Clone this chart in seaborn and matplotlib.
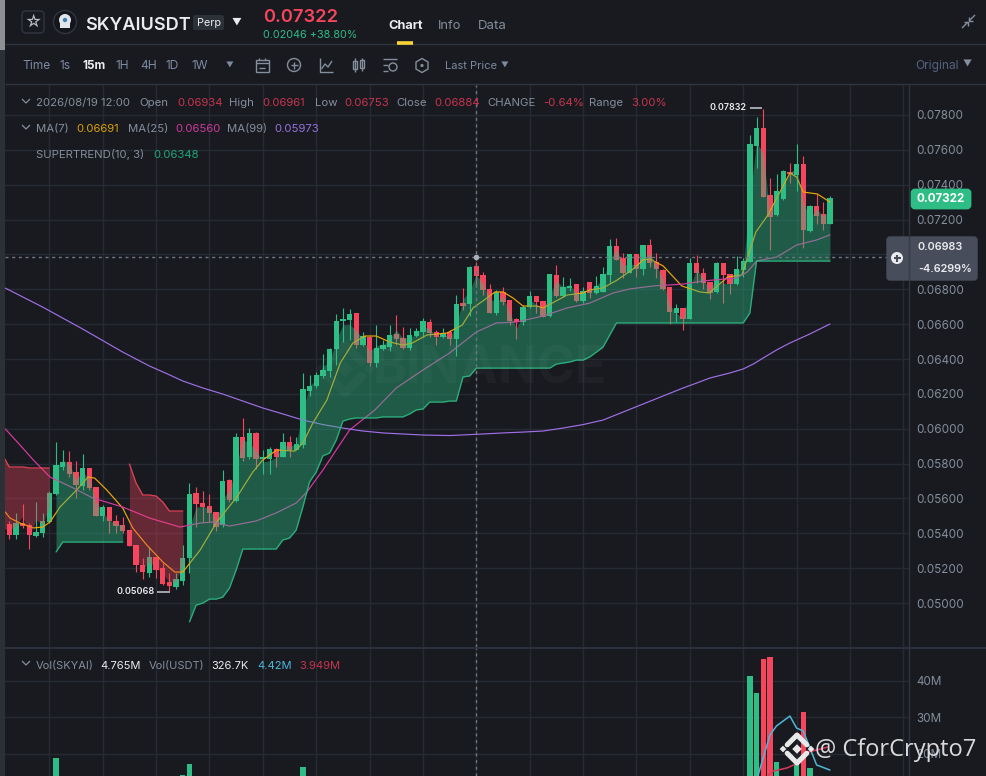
import numpy as np
import matplotlib
matplotlib.use("Agg")
import matplotlib.pyplot as plt
from matplotlib.patches import Circle, FancyBboxPatch, Polygon, Rectangle
import seaborn as sns

# prices are kept in units of 0.00001, candle index -1 sits just off the left edge
opens = [5448, 5454, 5390, 5459, 5448, 5385, 5402, 5465, 5626, 5780, 5809, 5752, 5672, 5775, 5666, 5499, 5551, 5471, 5448,
         5419, 5333, 5218, 5172, 5264, 5201, 5121, 5092, 5126, 5258, 5632, 5574, 5557, 5522, 5448, 5706, 5586, 5953, 5838,
         5976, 5827, 5827, 5884, 5838, 5924, 5878, 5907, 6217, 6245, 6303, 6331, 6458, 6618, 6624, 6664, 6480, 6526, 6377,
         6458, 6469, 6544, 6521, 6463, 6532, 6555, 6612, 6555, 6526, 6555, 6515, 6722, 6716, 6934, 6882, 6802, 6664, 6785,
         6739, 6630, 6612, 6699, 6762, 6733, 6647, 6882, 6762, 6808, 6830, 6733, 6842, 6779, 6785, 6882, 7048, 6980, 6894,
         7002, 6916, 7054, 6957, 6911, 6813, 6664, 6693, 6630, 6951, 6894, 6842, 6785, 6951, 6888, 6830, 6911, 6957, 7622,
         7725, 7341, 7226, 7318, 7473, 7456, 7519, 7134, 7278, 7232, 7175]
highs = [5465, 5471, 5517, 5568, 5459, 5580, 5517, 5643, 5924, 5878, 5872, 5815, 5855, 5775, 5666, 5563, 5551, 5505, 5494,
         5419, 5333, 5258, 5321, 5264, 5230, 5172, 5172, 5333, 5689, 5666, 5643, 5626, 5522, 5763, 5712, 5976, 6062, 6004,
         5981, 5878, 5895, 5890, 5976, 5958, 5953, 6320, 6308, 6326, 6429, 6463, 6658, 6693, 6687, 6664, 6555, 6532, 6595,
         6509, 6595, 6653, 6584, 6578, 6578, 6635, 6630, 6566, 6578, 6566, 6767, 6808, 6934, 6957, 6899, 6830, 6796, 6813,
         6739, 6635, 6710, 6790, 6762, 6733, 6888, 6939, 6871, 6865, 6830, 6813, 6842, 6876, 6928, 7089, 7094, 7008, 7002,
         7002, 7054, 7089, 7008, 6916, 6813, 6716, 6693, 6980, 6997, 6922, 6842, 6957, 6951, 6888, 6991, 6980, 7685, 7789,
         7832, 7439, 7462, 7484, 7525, 7634, 7565, 7284, 7347, 7301, 7335]
lows = [5390, 5367, 5367, 5431, 5310, 5379, 5379, 5459, 5620, 5763, 5723, 5603, 5649, 5649, 5499, 5471, 5402, 5402, 5402,
        5327, 5178, 5138, 5149, 5144, 5104, 5068, 5081, 5104, 5172, 5436, 5465, 5465, 5413, 5436, 5580, 5580, 5815, 5827,
        5769, 5740, 5740, 5781, 5838, 5838, 5878, 5890, 6188, 6234, 6291, 6297, 6366, 6498, 6509, 6463, 6475, 6360, 6354,
        6452, 6446, 6480, 6458, 6452, 6526, 6526, 6526, 6480, 6521, 6480, 6418, 6681, 6647, 6813, 6767, 6664, 6653, 6710,
        6595, 6515, 6595, 6693, 6664, 6641, 6641, 6756, 6756, 6790, 6727, 6722, 6750, 6773, 6785, 6836, 6968, 6865, 6894,
        6871, 6882, 6928, 6865, 6796, 6601, 6612, 6566, 6630, 6836, 6802, 6744, 6779, 6721, 6773, 6825, 6871, 6957, 7496,
        7330, 7025, 7220, 7312, 7410, 7364, 7037, 7129, 7175, 7140, 7175]
closes = [5419, 5390, 5459, 5442, 5390, 5408, 5471, 5632, 5792, 5809, 5740, 5677, 5775, 5660, 5499, 5551, 5471, 5442, 5413,
          5327, 5218, 5178, 5264, 5190, 5109, 5098, 5138, 5258, 5626, 5568, 5551, 5517, 5436, 5700, 5591, 5953, 5833, 5976,
          5827, 5838, 5884, 5838, 5924, 5878, 5912, 6228, 6245, 6308, 6337, 6458, 6618, 6630, 6658, 6480, 6532, 6377, 6463,
          6480, 6538, 6515, 6463, 6538, 6561, 6618, 6549, 6526, 6549, 6515, 6716, 6704, 6928, 6876, 6796, 6664, 6785, 6727,
          6618, 6612, 6699, 6762, 6727, 6641, 6888, 6762, 6813, 6819, 6733, 6790, 6779, 6819, 6888, 7048, 6968, 6894, 7002,
          6916, 7054, 6951, 6916, 6802, 6670, 6693, 6630, 6951, 6894, 6836, 6779, 6951, 6882, 6830, 6917, 6962, 7634, 7725,
          7330, 7215, 7364, 7479, 7462, 7519, 7140, 7278, 7220, 7175, 7322]

# moving averages, at these candle positions
ma7_at = [-0.6, 0.1, 1.6, 3.6, 5, 6.1, 7.6, 10.1, 11.8, 12.8, 14.6, 17, 18.5, 20.6, 23, 24.8, 26, 28.6, 31.1, 34.1, 36.5, 38,
          40.1, 42.8, 44, 45.5, 47.6, 49.6, 51.5, 53.3, 55, 57, 59, 60.4, 62.6, 65.6, 67.9, 69.5, 71.6, 72.8, 74, 75.5, 77,
          79.1, 80, 83.6, 86, 87, 89, 91.1, 93.5, 95, 96, 98, 100.8, 103.5, 104.9, 107.7, 109.8, 111.9, 113.7, 117, 118,
          119, 121.1, 123]
ma7 = [5522, 5488, 5459, 5431, 5436, 5465, 5551, 5649, 5723, 5717, 5649, 5545, 5431, 5333, 5236, 5178, 5178, 5304, 5465,
       5608, 5752, 5821, 5878, 5872, 5918, 6033, 6165, 6377, 6492, 6532, 6532, 6498, 6480, 6492, 6538, 6549, 6595, 6693,
       6750, 6785, 6785, 6750, 6704, 6704, 6693, 6767, 6779, 6796, 6808, 6853, 6916, 6968, 6974, 6934, 6819, 6785, 6779,
       6871, 6882, 7129, 7226, 7467, 7444, 7358, 7347, 7301]
ma25_at = [-0.6, 1.6, 3.6, 6.1, 9.6, 12.5, 17, 21, 25.6, 28.6, 30.5, 33, 37, 40, 43, 44.6, 47, 51, 54.8, 58, 62, 66, 70, 73,
           76, 80, 83.6, 87, 90.5, 93, 96.5, 101, 104, 109, 110.6, 112, 115, 118, 121, 123]
ma25 = [5999, 5907, 5821, 5723, 5660, 5603, 5551, 5488, 5436, 5459, 5465, 5442, 5471, 5517, 5574, 5637, 5763, 5993, 6108,
        6234, 6337, 6435, 6555, 6607, 6612, 6647, 6693, 6721, 6779, 6802, 6819, 6830, 6848, 6865, 6899, 6962, 6985, 7054,
        7083, 7112]
ma99_at = [-0.6, 5, 11, 17, 21, 23.5, 26, 29, 32, 35, 38, 41, 44, 47, 50, 53, 56, 62, 66, 71, 74, 77, 80, 83, 86, 89, 92, 95,
           98, 101, 103, 105, 108, 110, 111.5, 113, 115, 117, 120, 123]
ma99 = [6807, 6698, 6572, 6440, 6360, 6318, 6274, 6234, 6199, 6159, 6119, 6085, 6050, 6024, 6004, 5987, 5976, 5964, 5961,
        5970, 5976, 5981, 5987, 6004, 6024, 6050, 6096, 6142, 6188, 6234, 6262, 6291, 6320, 6343, 6371, 6406, 6452, 6492,
        6544, 6601]

# supertrend pieces, red ones above price and green ones below
st_down_a = [5849, 5781, 5781, 5781, 5775, 5775, 5775, 5775]
st_up_a = [5293] + [5350] * 10
st_down_b = [5798, 5689, 5620, 5620, 5614, 5580, 5528, 5528, 5528]
st_up_b = ([4892, 4988, 5000, 5023, 5023, 5034, 5086, 5190] + [5310] * 6 + [5362, 5373, 5419, 5551, 5695, 5752, 5844, 5861,
           5935, 6044, 6056] + [6062] * 4 + [6068] * 4 + [6085, 6108, 6113, 6153, 6153, 6153, 6159, 6159, 6297, 6303]
           + [6348] * 12 + [6371, 6377, 6383, 6394, 6394, 6412, 6440, 6469, 6538] + [6607] * 20 + [6664] + [6962] * 12)

vol_at = [7, 26, 27, 44, 111, 112, 113, 114, 115, 118, 119, 120]
vol_values = [19.0, 14.3, 17.3, 16.4, 41.4, 36.7, 46.0, 46.6, 17.8, 17.5, 31.5, 16.2]
vol_up = [True, True, True, True, True, True, False, False, True, True, False, True]
vol_ma_a_at = [112.2, 114, 115, 117, 118, 119, 121, 123]
vol_ma_a = [14.0, 25.2, 27.7, 30.4, 27.1, 26.3, 17.0, 15.6]
vol_ma_b_at = [113.8, 114.5, 116.6, 118.2, 119.7, 122.7]
vol_ma_b = [14.2, 15.3, 16.2, 17.5, 20.5, 21.9]

price_ticks = [0.050, 0.052, 0.054, 0.056, 0.058, 0.060, 0.062, 0.064, 0.066, 0.068, 0.070, 0.072, 0.074, 0.076, 0.078]
vol_ticks = [20, 30, 40]

BG = "#181a20"
GRID = "#252a33"
LINE = "#2f3540"
GREY = "#848e9c"
GREEN = "#2ebd85"
RED = "#f6465d"
CROSS = "#6f7681"

sns.set_theme(style="darkgrid", rc={"axes.facecolor": BG, "figure.facecolor": BG, "grid.color": GRID, "grid.linewidth": 1})
plt.rcParams["font.family"] = ["Inter", "DejaVu Sans"]

fig = plt.figure(figsize=(9.87, 7.76), dpi=100)
ax = fig.add_axes([5 / 987, 1 - 647 / 776, 904 / 987, 562 / 776])
vol = fig.add_axes([5 / 987, 0, 904 / 987, 128 / 776])

idx = np.arange(-1, 124)
o, h, l, c = [np.array(a) / 1e5 for a in (opens, highs, lows, closes)]
up = c >= o
colors = np.where(up, GREEN, RED)

# candles, with the trend fill laid over them afterwards
ax.vlines(idx, l, h, colors=colors, linewidth=0.8, zorder=2)
ax.bar(idx, np.abs(c - o), bottom=np.minimum(o, c), width=0.8, color=colors, linewidth=0, zorder=2)

for at, vals, col in [(ma7_at, ma7, "#f0a70a"), (ma25_at, ma25, "#d93aa2"), (ma99_at, ma99, "#a06fe6")]:
    sns.lineplot(x=at, y=np.array(vals) / 1e5, color=col, linewidth=0.85, ax=ax, errorbar=None, sort=False, zorder=3)

mid = (h + l) / 2
pos = 0
for piece, col, alpha in [(st_down_a, RED, 0.35), (st_up_a, GREEN, 0.4), (st_down_b, RED, 0.35), (st_up_b, GREEN, 0.4)]:
    xs = idx[pos:pos + len(piece)]
    ys = np.array(piece) / 1e5
    ax.fill_between(xs, ys, mid[pos:pos + len(piece)], color=col, alpha=alpha, linewidth=0, zorder=4)
    sns.lineplot(x=xs, y=ys, color=col, alpha=0.85, linewidth=0.95, ax=ax, errorbar=None, zorder=5)
    pos += len(piece)

ax.axhline(0.06983, color=CROSS, linewidth=1, linestyle=(0, (2.2, 2.6)), zorder=6)
ax.axvline(70, color=CROSS, linewidth=1, linestyle=(0, (2.2, 2.6)), zorder=6)
ax.plot([70], [0.06983], "o", color="#aab0b8", markersize=3, zorder=7)

ax.set_xlim(-0.645, 134.85)
ax.set_ylim(0.04748, 0.07972)
ax.set_yticks(price_ticks)
# the 0.07000 label sits behind the crosshair price box in the original
ax.set_yticklabels(["" if p == 0.070 else f"{p:.5f}" for p in price_ticks])

vol.bar(vol_at, vol_values, width=0.8, color=[GREEN if u else RED for u in vol_up], linewidth=0, zorder=2)
sns.lineplot(x=vol_ma_a_at, y=vol_ma_a, color="#4fb6d8", linewidth=1.1, ax=vol, errorbar=None, zorder=3)
sns.lineplot(x=vol_ma_b_at, y=vol_ma_b, color="#d8395a", linewidth=1.1, ax=vol, errorbar=None, zorder=3)
vol.axvline(70, color=CROSS, linewidth=1, linestyle=(0, (2.2, 2.6)), zorder=6)
vol.set_xlim(-0.645, 134.85)
vol.set_ylim(13.97, 49.04)
vol.set_yticks(vol_ticks)
vol.set_yticklabels([f"{v}M" for v in vol_ticks])

for a in (ax, vol):
    a.set_xticks(np.arange(6, 135, 8))
    a.set_xticklabels([])
    a.yaxis.tick_right()
    a.tick_params(axis="y", length=0, pad=5, labelsize=8.4, labelcolor=GREY)
    a.tick_params(axis="x", length=0)
    a.set_xlabel("")
    a.set_ylabel("")
    a.set_axisbelow(True)
    for s in a.spines.values():
        s.set_visible(False)

# header, toolbar and labels are drawn on a pixel sized layer over the chart
ui = fig.add_axes([0, 0, 1, 1], facecolor="none")
ui.set_xlim(0, 987)
ui.set_ylim(776, 0)
ui.axis("off")


def t(x, y, s, color=GREY, size=8.2, weight="normal", ha="left", **kw):
    ui.text(x, y + 1, s, color=color, fontsize=size, fontweight=weight, ha=ha, va="center", **kw)


def ln(xs, ys, color=LINE, lw=1.0, **kw):
    ui.plot(xs, ys, color=color, linewidth=lw, solid_capstyle="butt", **kw)


def logo(cx, cy, r, color, alpha=1.0):
    k = r / 10
    lw = 2.6 * k
    ui.plot([cx - 7 * k, cx, cx + 7 * k], [cy - 3 * k, cy - 10 * k, cy - 3 * k], color=color, lw=lw, alpha=alpha)
    ui.plot([cx - 7 * k, cx, cx + 7 * k], [cy + 3 * k, cy + 10 * k, cy + 3 * k], color=color, lw=lw, alpha=alpha)
    for dx, d in [(0, 3.4), (-10, 2.4), (10, 2.4)]:
        d *= k
        px = cx + dx * k
        ui.add_patch(Polygon([(px - d, cy), (px, cy - d), (px + d, cy), (px, cy + d)], color=color, alpha=alpha, lw=0))


def chevron(x, y):
    ln([x - 4, x, x + 4], [y - 2, y + 2, y - 2], color=GREY, lw=0.9)


ln([5, 987], [44, 44], color="#2f3642")
ln([5, 987], [84, 84], color="#2f3642")
ln([5, 987], [647.5, 647.5], color="#2f3642", lw=1.2)
ln([909, 909], [85, 776], color=LINE)
ui.add_patch(Rectangle((0, 0), 4.5, 776, color="#2b2f36", lw=0))
ui.add_patch(Rectangle((0, 0), 4.5, 50, color="#8d8f92", lw=0))

# price tags
ui.add_patch(FancyBboxPatch((912, 190), 58, 18, boxstyle="round,pad=0,rounding_size=3", fc="#2dbd85", ec="#2dbd85", lw=2))
t(941, 198, "0.07322", color="white", size=8.4, weight="bold", ha="center")
ui.add_patch(FancyBboxPatch((887, 237), 90, 43, boxstyle="round,pad=0,rounding_size=3", fc="#474d5a", ec="#474d5a", lw=1))
ln([909, 909], [237, 280], color="#3a3f4a")
t(918, 246, "0.06983", color="#eaecef", size=7.8, weight="semibold")
t(918, 268, "-4.6299%", color="#eaecef", size=7.8, weight="semibold")
ui.add_patch(Circle((897, 258), 6, fc="#eaecef", ec="none"))
ln([893.5, 900.5], [258, 258], color="#474d5a", lw=1.5)
ln([897, 897], [254.5, 261.5], color="#474d5a", lw=1.5)

# high and low markers
t(747, 107, "0.07832", color="#eaecef", size=6.4, weight="semibold", ha="right")
ln([750, 762], [108, 108], color="#b7bdc6", lw=1.2)
t(155, 591, "0.05068", color="#eaecef", size=6.5, weight="semibold", ha="right")
ln([157, 170], [592, 592], color="#b7bdc6", lw=1.2)

# top bar
ui.add_patch(FancyBboxPatch((22, 11), 22, 22, boxstyle="round,pad=0,rounding_size=4", fc="none", ec="#2f3642", lw=1))
t(33, 21, "☆", color="#b7bdc6", size=12, ha="center")
ui.add_patch(Circle((65, 22), 11.5, fc="#14161b", ec="#2f3642", lw=1))
ui.add_patch(Circle((65, 20), 6, fc="#dfe6ee", ec="none"))
ui.add_patch(Rectangle((60, 21), 10, 7, fc="#dfe6ee", ec="none"))
ui.add_patch(Circle((65, 20), 2.2, fc="#3f7fa8", ec="none"))
t(85, 24, "SKYAIUSDT", color="#eaecef", size=13, weight="semibold")
ui.add_patch(FancyBboxPatch((193, 15), 31, 15, boxstyle="round,pad=0,rounding_size=2", fc="#2b3139", ec="none"))
t(208.5, 22, "Perp", color="#eaecef", size=7.8, ha="center")
t(236, 21, "▼", color="#eaecef", size=7, ha="center")
t(263, 16, "0.07322", color=RED, size=13.2, weight="semibold")
t(263, 34, "0.02046 +38.80%", color=GREEN, size=7.8)
t(388, 25, "Chart", color="#eaecef", size=9.2, weight="bold")
ln([397, 413], [42.5, 42.5], color="#fcd535", lw=2.6)
t(438, 25, "Info", size=9.2)
t(478, 25, "Data", size=9.5)
# collapse arrows
ln([962, 968], [28, 22], color=GREY, lw=1)
ln([964, 968, 968], [22, 22, 26], color=GREY, lw=1)
ln([969, 975], [21, 15], color=GREY, lw=1)
ln([969, 969, 973], [17, 21, 21], color=GREY, lw=1)

# toolbar
for x, s in [(22, "Time"), (59, "1s"), (115, "1H"), (140, "4H"), (166, "1D"), (192, "1W")]:
    t(x, 65, s, color="#7d8aa0", size=8.6)
t(82, 65, "15m", color="#eaecef", size=8.4, weight="bold")
t(230, 63.5, "▼", color="#7d8aa0", size=5.5, ha="center")
# calendar
ui.add_patch(Rectangle((255.5, 60), 13, 12, fc="none", ec=GREY, lw=1))
ln([255.5, 268.5], [63, 63], color=GREY)
ln([259, 259], [58, 60], color=GREY)
ln([265, 265], [58, 60], color=GREY)
ln([259, 265], [67.5, 67.5], color=GREY)
# indicators plus
ui.add_patch(Circle((294, 65), 6.5, fc="none", ec=GREY, lw=1))
ln([290.5, 297.5], [65, 65], color=GREY)
ln([294, 294], [61.5, 68.5], color=GREY)
# drawing line
ln([319.5, 319.5, 333], [58, 72, 72], color=GREY)
ln([321.5, 325, 328, 332], [69, 64, 67, 61], color=GREY)
# candle type
ui.add_patch(Rectangle((353, 61), 4, 8, fc="none", ec=GREY, lw=1))
ui.add_patch(Rectangle((360, 60), 4, 8, fc="none", ec=GREY, lw=1))
ln([355, 355], [58, 72], color=GREY)
ln([362, 362], [58, 71], color=GREY)
# settings rows
ln([383, 397], [59, 59], color=GREY)
ln([383, 388], [65, 65], color=GREY)
ln([383, 388], [71, 71], color=GREY)
ui.add_patch(Circle((393, 67), 4, fc="none", ec=GREY, lw=1))
# hexagon
ui.add_patch(Polygon([(422, 58.5), (428, 62), (428, 69), (422, 72.5), (416, 69), (416, 62)], fc="none", ec=GREY, lw=1))
ui.add_patch(Circle((422, 65.5), 1.6, fc=GREY, ec="none"))
t(445, 65, "Last Price", color="#7d8aa0", size=8)
t(504.5, 63.5, "▼", color="#7d8aa0", size=5.5, ha="center")
t(915, 65, "Original", color="#55627d", size=8.6)
t(967, 63.5, "▼", color=GREY, size=6.5, ha="center")

# legend rows
RED_TXT = "#c8344f"
chevron(26, 101)
t(36, 102, "2026/08/19 12:00")
for x, s, col in [(139, "Open", GREY), (177, "0.06934", RED_TXT), (229, "High", GREY), (262, "0.06961", RED_TXT),
                  (315, "Low", GREY), (344, "0.06753", RED_TXT), (396, "Close", GREY), (434, "0.06884", RED_TXT),
                  (487, "CHANGE", GREY), (543, "-0.64%", RED_TXT), (589, "Range", GREY), (631, "3.00%", RED_TXT)]:
    t(x, 102, s, color=col)
chevron(26, 127)
for x, s, col in [(36, "MA(7)", GREY), (76, "0.06691", "#d9a008"), (128, "MA(25)", GREY), (175, "0.06560", "#cf3a9e"),
                  (227, "MA(99)", GREY), (274, "0.05973", "#9a6fe0")]:
    t(x, 128, s, color=col)
t(36, 154, "SUPERTREND(10, 3)")
t(153, 154, "0.06348", color="#1fa874")
chevron(26, 663)
for x, s, col in [(36, "Vol(SKYAI)", GREY), (100, "4.765M", "#eaecef"), (149, "Vol(USDT)", GREY), (211, "326.7K", "#eaecef"),
                  (257, "4.42M", "#4fb6d8"), (299, "3.949M", RED_TXT)]:
    t(x, 665, s, color=col, size=8.0)

# watermarks
t(490, 369, "BINANCE", color="white", size=37, weight="bold", ha="center", alpha=0.03)
logo(345, 369, 24, "white", alpha=0.03)
logo(797, 749, 14, "#e8e8e8")
t(815, 749, "@ CforCrypto7", color="#e4e4e4", size=17, family="Open Sans", alpha=0.95)

fig.savefig("out.png", dpi=100)
